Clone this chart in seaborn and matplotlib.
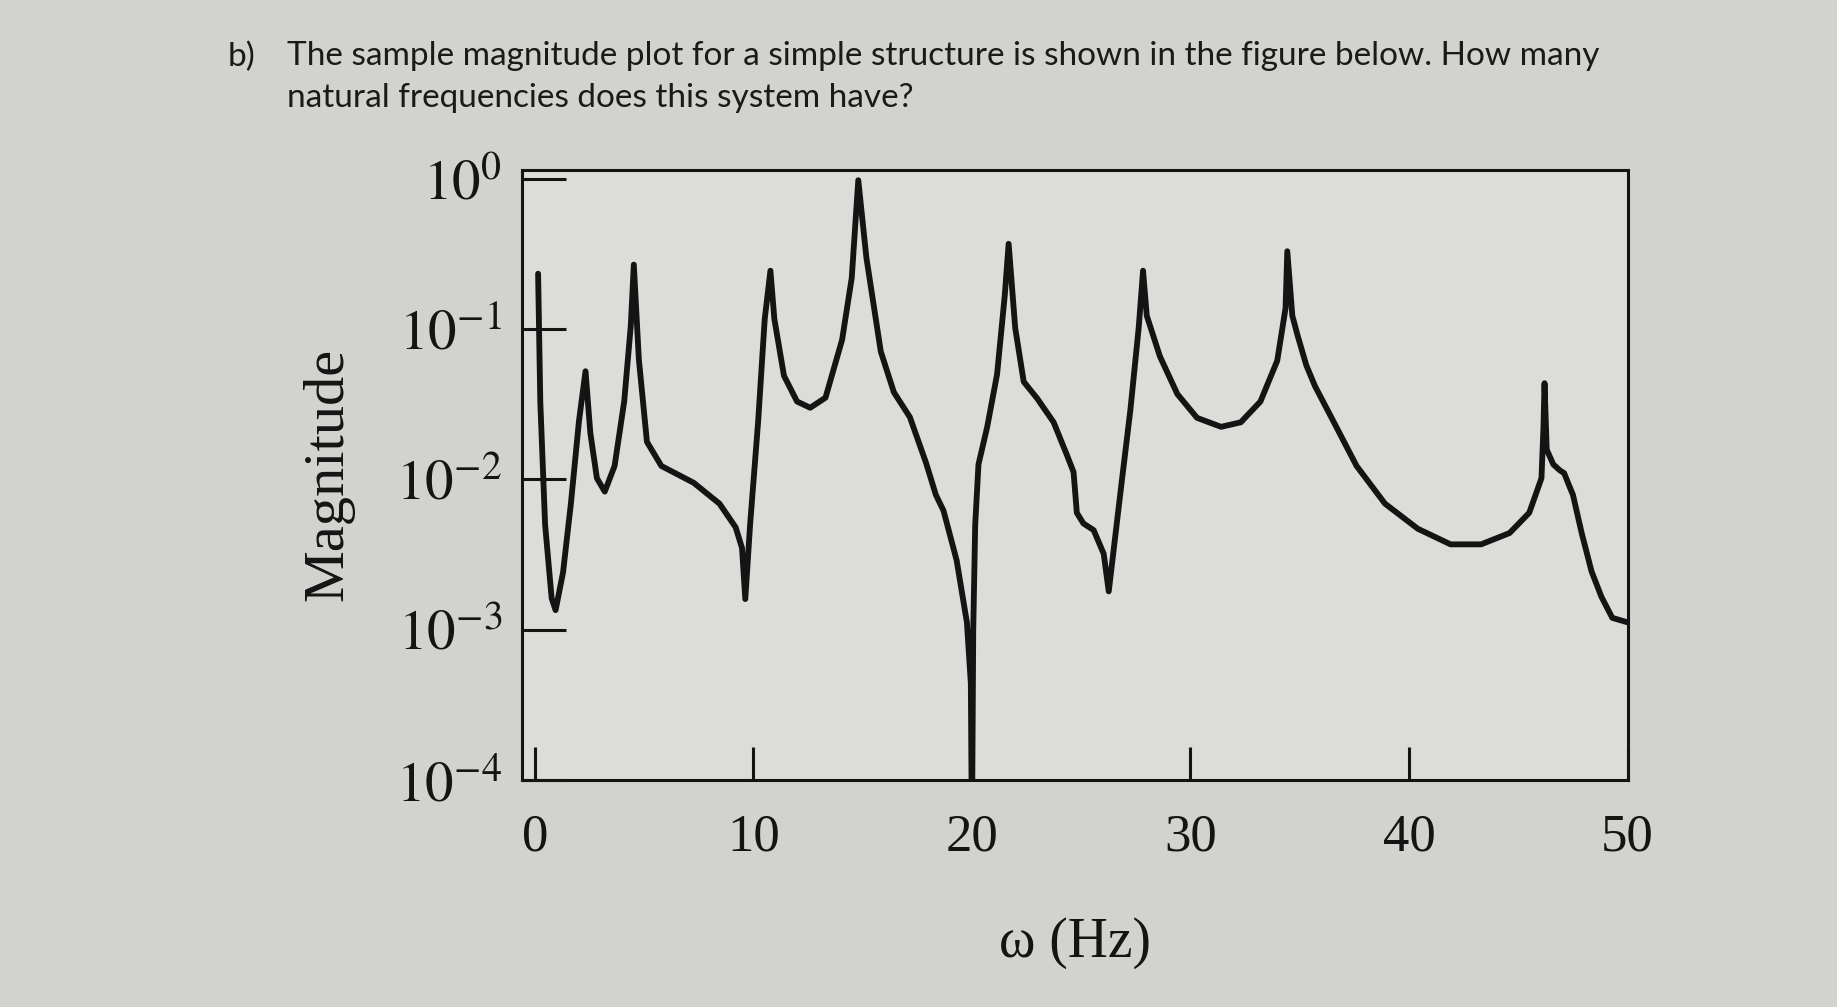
import numpy as np
import pandas as pd
import matplotlib
matplotlib.use("Agg")
import matplotlib.pyplot as plt
import seaborn as sns

# frequency (Hz) and magnitude
freq = [0.15, 0.25, 0.47, 0.77, 0.95, 1.29, 1.65, 2.02, 2.32, 2.54, 2.84, 3.2, 3.65,
        4.09, 4.39, 4.53, 4.76, 5.13, 5.79, 7.27, 8.45, 9.19, 9.48, 9.63, 9.85, 10.22,
        10.52, 10.78, 10.96, 11.4, 12.0, 12.6, 13.3, 14.06, 14.5, 14.8, 15.17, 15.83,
        16.43, 17.16, 17.9, 18.35, 18.7, 19.3, 19.77, 19.95, 20.0, 20.06, 20.15, 20.3,
        20.7, 21.15, 21.5, 21.68, 21.98, 22.37, 22.98, 23.74, 24.35, 24.65, 24.8, 25.1,
        25.57, 26.03, 26.26, 26.8, 27.25, 27.63, 27.83, 28.0, 28.6, 29.4, 30.3, 31.4,
        32.3, 33.2, 33.97, 34.35, 34.43, 34.66, 34.9, 35.3, 35.7, 36.5, 37.6, 38.9,
        40.4, 41.9, 43.3, 44.6, 45.5, 46.06, 46.15, 46.2, 46.3, 46.6, 46.9, 47.1, 47.3,
        47.5, 47.9, 48.35, 48.8, 49.3, 50.0]
magnitude = [0.234, 0.0331, 0.00501, 0.00162, 0.00135, 0.0024, 0.0069, 0.0245, 0.0525,
             0.0204, 0.0102, 0.0083, 0.0123, 0.0331, 0.105, 0.269, 0.063, 0.0178, 0.0123,
             0.0095, 0.0069, 0.0048, 0.0035, 0.0016, 0.005, 0.0245, 0.117, 0.245, 0.117,
             0.049, 0.033, 0.030, 0.035, 0.085, 0.219, 0.98, 0.30, 0.071, 0.038, 0.026,
             0.0129, 0.0079, 0.0062, 0.0029, 0.00112, 0.00044, 0.00004, 0.001, 0.005,
             0.0126, 0.0224, 0.05, 0.166, 0.37, 0.102, 0.0447, 0.0347, 0.024, 0.0145,
             0.0112, 0.006, 0.0051, 0.0046, 0.0032, 0.0018, 0.0083, 0.029, 0.102, 0.245,
             0.123, 0.066, 0.037, 0.0257, 0.0224, 0.024, 0.033, 0.0617, 0.138, 0.33,
             0.123, 0.091, 0.0575, 0.0417, 0.025, 0.0123, 0.0069, 0.0047, 0.0037, 0.0037,
             0.0044, 0.006, 0.0102, 0.022, 0.0437, 0.0158, 0.0126, 0.0115, 0.011, 0.0093,
             0.0079, 0.0044, 0.00245, 0.00166, 0.0012, 0.00112]

x_ticks = [0, 10, 20, 30, 40, 50]
y_ticks = [1e-4, 1e-3, 1e-2, 1e-1, 1e0]
y_tick_labels = [r'$10^{-4}$', r'$10^{-3}$', r'$10^{-2}$', r'$10^{-1}$', r'$10^{0}$']

question = ("The sample magnitude plot for a simple structure is shown in the figure below. How many\n"
            "natural frequencies does this system have?")

df = pd.DataFrame({'freq': freq, 'magnitude': magnitude})

sns.set_style('white')
plt.rcParams['font.family'] = ['Liberation Serif', 'DejaVu Serif']
plt.rcParams['mathtext.fontset'] = 'stix'

fig = plt.figure(figsize=(18.37, 10.07), dpi=100)
fig.patch.set_facecolor('#d2d3ce')
ax = fig.add_axes([0.284, 0.2254, 0.602, 0.606])
ax.set_facecolor('#dcddd8')

sns.lineplot(data=df, x='freq', y='magnitude', ax=ax, color='#141414',
             linewidth=4.2, sort=False)

ax.set_yscale('log')
ax.set_xlim(-0.6, 50)
ax.set_ylim(1e-4, 1.15)
ax.set_xticks(x_ticks)
ax.set_xticklabels([str(t) for t in x_ticks])
ax.set_yticks(y_ticks)
ax.set_yticklabels(y_tick_labels)
ax.minorticks_off()

ax.tick_params(left=True, bottom=True, top=False, right=False)
ax.tick_params(axis='y', direction='in', length=32, width=2.2, pad=14,
               labelsize=41, colors='#141414')
ax.tick_params(axis='x', direction='in', length=24, width=2.2, pad=24,
               labelsize=38, colors='#141414')
for s in ax.spines.values():
    s.set_linewidth(2.2)
    s.set_color('#141414')

ax.set_xlabel('ω (Hz)', fontsize=40, labelpad=40, color='#141414')
ax.set_ylabel('Magnitude', fontsize=42, labelpad=30, color='#141414')

fig.text(0.124, 0.959, 'b)', fontsize=24, family=['Lato', 'DejaVu Sans'],
         va='top', color='#1a1a1a')
fig.text(0.156, 0.959, question, fontsize=24, family=['Lato', 'DejaVu Sans'],
         va='top', color='#1a1a1a', linespacing=1.5)

fig.savefig('out.png', dpi=100, facecolor=fig.get_facecolor())
